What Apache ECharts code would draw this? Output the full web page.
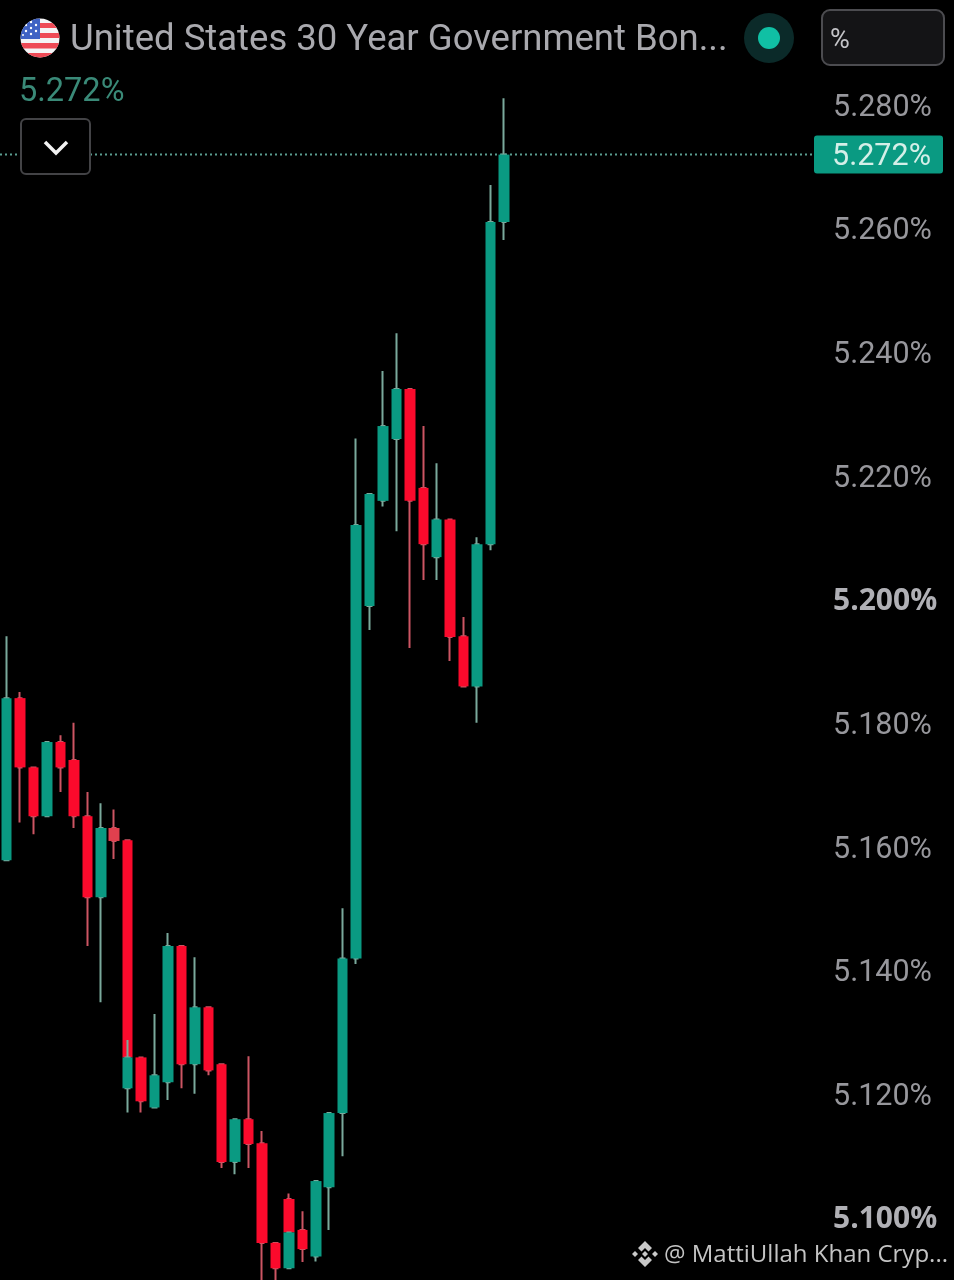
<!DOCTYPE html>
<html><head><meta charset="utf-8">
<style>html,body{margin:0;padding:0;background:#000}#c{width:954px;height:1280px}</style>
<script src="https://cdn.jsdelivr.net/npm/echarts@6/dist/echarts.min.js"></script>
</head><body><div id="c"></div>
<script>
const opens =[5.1579,5.1841,5.1729,5.1650,5.1770,5.1741,5.1650,5.1519,5.1631,5.1611,5.1260,5.1179,5.1220,5.1440,5.1249,5.1341,5.1249,5.1091,5.1160,5.1121,5.0960,5.1031,5.0981,5.0938,5.1050,5.1170,5.1420,5.1990,5.2160,5.2260,5.2341,5.2181,5.2069,5.2130,5.1941,5.1860,5.2090,5.2611];
const closes=[5.1841,5.1729,5.1650,5.1770,5.1729,5.1650,5.1519,5.1631,5.1610,5.1260,5.1189,5.1231,5.1440,5.1249,5.1341,5.1239,5.1091,5.1160,5.1120,5.0960,5.0919,5.0977,5.0950,5.1060,5.1170,5.1420,5.2121,5.2171,5.2281,5.2341,5.2160,5.2090,5.2130,5.1940,5.1860,5.2090,5.2611,5.2720];
const lows  =[5.1579,5.1640,5.1621,5.1650,5.1689,5.1631,5.1440,5.1349,5.1581,5.1260,5.1171,5.1179,5.1191,5.1210,5.1201,5.1231,5.1081,5.1071,5.1081,5.0895,5.0895,5.0977,5.0929,5.0930,5.0981,5.1100,5.1411,5.1951,5.2151,5.2111,5.1922,5.2032,5.2032,5.1901,5.1860,5.1801,5.2080,5.2582];
const highs =[5.1941,5.1851,5.1729,5.1770,5.1781,5.1801,5.1689,5.1671,5.1661,5.1611,5.1260,5.1330,5.1461,5.1440,5.1422,5.1341,5.1249,5.1160,5.1262,5.1141,5.0960,5.1040,5.1011,5.1060,5.1170,5.1501,5.2261,5.2171,5.2370,5.2431,5.2341,5.2281,5.2221,5.2130,5.1972,5.2101,5.2671,5.2811];
// two slots of the picture hold a second candle drawn over the first
const overlaySlots =[9,21];
const overlayOpens =[5.1210,5.0919];
const overlayCloses=[5.1260,5.0977];
const overlayLows  =[5.1171,5.0919];
const overlayHighs =[5.1288,5.0977];
const mutedSlots=[8];
const yTicks=[5.28,5.26,5.24,5.22,5.20,5.18,5.16,5.14,5.12,5.10];
const boldTicks=[5.20,5.10];
const lastPrice=5.272;
const slotCount=71;
const titleText='United States 30 Year Government Bon...';
const handleText='@ MattiUllah Khan Cryp...';

const GREEN='#0a9a82',RED='#fb0a2c',GWICK='#7aa99c',RWICK='#cc5563',MUTED='#e0404e';
const cats=[];for(let i=0;i<slotCount;i++)cats.push(String(i));
const idx=opens.map((_,i)=>i);
const wickData=idx.map(i=>[opens[i],closes[i],lows[i],highs[i]]);
const bodyData=idx.map(i=>{const v=[opens[i],closes[i],Math.min(opens[i],closes[i]),Math.max(opens[i],closes[i])];
 return mutedSlots.includes(i)?{value:v,itemStyle:{color0:MUTED,color:MUTED}}:v;});
const ovRow=(i,full)=>{const k=overlaySlots.indexOf(i);if(k<0)return['-','-','-','-'];
 const o=overlayOpens[k],c=overlayCloses[k];return full?[o,c,overlayLows[k],overlayHighs[k]]:[o,c,o,c];};
const wickStyle={color:GWICK,color0:RWICK,borderColor:GWICK,borderColor0:RWICK,borderWidth:2};
const bodyStyle={color:GREEN,color0:RED,borderWidth:0};
const candle=(name,data,bw,st,z)=>({name,type:'candlestick',data,barWidth:bw,itemStyle:st,z,animation:false,silent:true});

const chart=echarts.init(document.getElementById('c'),null,{width:954,height:1280});
const FONT='Roboto';
const t=(x,y,text,fs,fill,extra)=>({type:'text',x,y,z:20,style:Object.assign({text,fontSize:fs,fontFamily:FONT,fill,verticalAlign:'middle'},extra||{})});
const poly=(pts,fill)=>({type:'polygon',z:20,shape:{points:pts},style:{fill}});
const flagSvg=`<svg xmlns="http://www.w3.org/2000/svg" width="80" height="80" viewBox="0 0 40 40"><defs><clipPath id="a"><circle cx="20" cy="20" r="19.5"/></clipPath></defs><g clip-path="url(#a)"><rect width="40" height="40" fill="#f4f4f6"/><rect x="20" y="5" width="20" height="5" fill="#ee4a56"/><rect x="20" y="15" width="20" height="5" fill="#ee4a56"/><rect y="25" width="40" height="5.5" fill="#ee4a56"/><rect y="35" width="40" height="5" fill="#ee4a56"/><rect width="20" height="21" fill="#3f62c4"/><g fill="#fff"><circle cx="6" cy="7" r="1.2"/><circle cx="11" cy="4" r="1.2"/><circle cx="11" cy="10" r="1.2"/><circle cx="16" cy="7" r="1.2"/><circle cx="6" cy="13" r="1.2"/><circle cx="16" cy="13" r="1.2"/><circle cx="11" cy="16" r="1.2"/><circle cx="3" cy="17" r="1"/></g></g></svg>`;
const L=632,T=1241,ICON='#c8c8c8';
const ic=(pts)=>poly(pts.map(p=>[p[0]+L,p[1]+T]),ICON);

chart.setOption({
 backgroundColor:'#000',animation:false,
 grid:{left:0,right:0,top:0,bottom:0},
 xAxis:[{type:'category',data:cats,show:false,boundaryGap:true},
        {type:'value',min:0,max:954,show:false}],
 yAxis:{type:'value',min:5.09,max:5.297,position:'right',scale:true,
  axisLine:{show:false},axisTick:{show:false},splitLine:{show:false},
  axisLabel:{inside:true,align:'left',margin:121,customValues:yTicks,
   formatter:v=>{const s=v.toFixed(3)+'%';return boldTicks.some(b=>Math.abs(b-v)<1e-6)?'{b|'+s+'}':'{n|'+s+'}';},
   rich:{n:{fontFamily:FONT,fontSize:30.5,color:'#97979c',padding:[6,0,0,0]},b:{fontFamily:'Open Sans',fontWeight:'bold',fontSize:30,color:'#b0b0b5',padding:[3,0,0,0]}}}},
 series:[
  candle('wicks',wickData,4,wickStyle,2),
  candle('bodies',bodyData,11,bodyStyle,3),
  candle('overlayWicks',idx.map(i=>ovRow(i,true)),4,wickStyle,4),
  candle('overlayBodies',idx.map(i=>ovRow(i,false)),11,bodyStyle,5),
  {name:'last',type:'line',xAxisIndex:1,yAxisIndex:0,z:1,symbol:'none',silent:true,animation:false,
   data:[[0,lastPrice],[814,lastPrice]],
   lineStyle:{color:'#5a9d90',width:2,type:[2,3]},
   markPoint:{silent:true,animation:false,symbol:'path://M3 0H126Q129 0 129 3V35Q129 38 126 38H3Q0 38 0 35V3Q0 0 3 0Z',symbolSize:[129,38],
    itemStyle:{color:'#0a9a82'},
    data:[{coord:[878.5,lastPrice],value:lastPrice}],
    label:{show:true,formatter:p=>p.value.toFixed(3)+'%',fontFamily:FONT,fontSize:30.5,color:'#d4efe8',offset:[3,3]}}}
 ],
 graphic:[
  {type:'image',x:20,y:18,z:20,style:{image:'data:image/svg+xml;charset=utf-8,'+encodeURIComponent(flagSvg),x:0,y:0,width:40,height:40}},
  t(70,41,titleText,36.5,'#a9a9ae'),
  {type:'circle',z:20,shape:{cx:769,cy:38,r:25},style:{fill:'#0b2a29'}},
  {type:'circle',z:21,shape:{cx:769,cy:38,r:11},style:{fill:'#10c0a4'}},
  {type:'rect',z:20,shape:{x:822,y:10,width:122,height:55,r:8},style:{fill:'#141416',stroke:'#4c4c50',lineWidth:2}},
  t(830,41,'%',27,'#c4c4c8'),
  t(19,93,'5.272%',32.5,'#3a8a78'),
  {type:'rect',z:20,shape:{x:21,y:119,width:69,height:55,r:5},style:{fill:'#000',stroke:'#434346',lineWidth:2}},
  {type:'polyline',z:21,shape:{points:[[45,142],[56,153],[67,142]]},style:{stroke:'#f2f2f2',lineWidth:3.5,fill:null}},
  ic([[13,0],[20,7],[16.5,10.5],[13,7],[9.5,10.5],[6,7]]),
  ic([[13,26],[20,19],[16.5,15.5],[13,19],[9.5,15.5],[6,19]]),
  ic([[3,10],[6,13],[3,16],[0,13]]),
  ic([[23,10],[26,13],[23,16],[20,13]]),
  ic([[13,10],[16,13],[13,16],[10,13]]),
  t(664,1255,handleText,24,'#c4c4c4',{fontFamily:'Open Sans'})
 ]
});
</script></body></html>
